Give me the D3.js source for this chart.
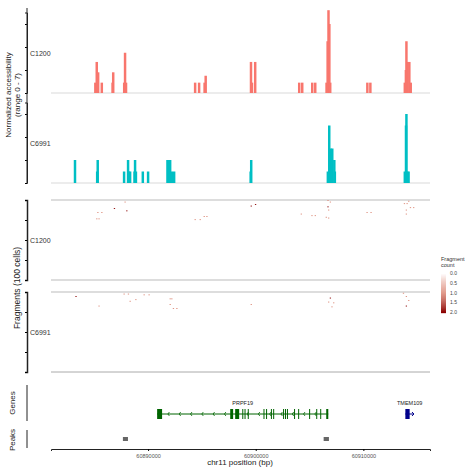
<!DOCTYPE html>
<html><head><meta charset="utf-8">
<script src="https://cdn.jsdelivr.net/npm/d3@7"></script>
<style>body{margin:0;background:#fff}text{font-family:"Liberation Sans",Arial,sans-serif}</style>
</head><body><svg id="c" width="474" height="474"></svg>
<script>
// coverage bars: [position bp, normalized accessibility]
var covC1200 = [[60885100,0.9],[60885230,2.7],[60885360,1.8],[60885700,0.9],[60886700,0.9],[60886760,1.8],
  [60887780,0.9],[60887860,3.5],[60887950,0.9],[60894370,0.9],[60894740,0.9],[60895250,0.9],[60895350,1.5],
  [60899560,2.7],[60899650,0.9],[60899950,2.7],[60904040,0.9],[60904320,0.9],[60905250,0.9],[60905530,0.9],
  [60906580,0.9],[60906680,4.5],[60906760,7.2],[60906840,6],[60906920,0.9],[60910370,0.9],[60910650,0.9],
  [60913850,0.9],[60913950,2],[60914000,4.5],[60914100,2.7],[60914270,2.7],[60914400,0.9]];
var covC6991 = [[60883210,2],[60885270,1],[60885320,2],[60887770,1],[60888140,2],[60888230,1],[60888330,1],
  [60888740,1],[60888790,2],[60888870,1],[60889510,1],[60890000,1],[60891800,2],[60891900,2],[60892050,2],
  [60892200,1],[60892420,1],[60899580,2],[60899530,1],[60906700,1],[60906830,5],[60906950,3],[60907110,3],
  [60907300,2],[60907350,1],[60913850,1],[60913960,5],[60914000,6],[60914080,1],[60914200,1]];
// fragments: [position bp, cell row, count]
var fragC1200 = [[60885230,23,1],[60885440,23,1],[60885330,15,1],[60885700,15,1],[60886870,10,2],[60887860,2,1],
  [60888020,13,2],[60894370,24,1],[60894840,24,1],[60895210,20,1],[60895460,20,1],[60899580,7,2],[60899980,5,2],
  [60904230,17,1],[60905220,19,1],[60905530,19,1],[60906710,0,1],[60906930,2,1],[60906710,8,2],[60906770,12,1],
  [60906550,21,1],[60906770,22,1],[60910340,15,1],[60910710,15,1],[60913810,4,1],[60914060,4,1],[60914210,1,1],
  [60914370,9,1],[60914670,9,1],[60913990,12,1],[60913990,17,1]];
var fragC6991 = [[60883300,5,2],[60885440,17,1],[60887770,2,1],[60888170,2,1],[60888330,11,1],[60888860,9,1],
  [60889630,3,1],[60890090,3,1],[60892050,8,1],[60892200,8,1],[60892050,15,1],[60892350,20,1],[60892670,20,1],
  [60899580,15,1],[60906930,7,2],[60906770,12,1],[60907240,13,1],[60907080,18,1],[60913720,1,1],[60913990,5,1],
  [60914210,10,1],[60913990,17,2]];
// genes
var prpf19Exons = [[60890840,60891300],[60897630,60897900],[60898090,60898460],[60898750,60898830],[60898960,60899050],
  [60899260,60899330],[60900720,60900800],[60900960,60901050],[60901410,60901480],[60901620,60901700],
  [60902540,60902620],[60902720,60902800],[60902900,60902980],[60903560,60903640],[60903940,60904020],
  [60904960,60905030],[60905620,60905700],[60905990,60906070],[60906550,60906740]];
var prpf19Span = [60890840,60906740];
var tmemExons = [[60913900,60914300]];
var tmemSpan = [60913900,60914700];
var peaks = [[60887660,60888130],[60906310,60906800]];
var xTicks = [60890000,60900000,60910000];
var fragLegend = [0,0.5,1,1.5,2];

var svg = d3.select("#c");
var x = d3.scaleLinear().domain([60880980,60916190]).range([51,430]);
var bw = 230;
function covPanel(data, base, color, label){
  var y = d3.scaleLinear().domain([0,7]).range([base, base-80.5]);
  svg.append("line").attr("x1",51).attr("x2",430).attr("y1",base).attr("y2",base).attr("stroke","#d9d9d9").attr("stroke-width",1);
  svg.append("g").selectAll("rect").data(data).join("rect")
    .attr("x",d=>x(d[0]-bw/2)).attr("width",x(bw)-x(0)).attr("y",d=>y(d[1])).attr("height",d=>base-y(d[1])).attr("fill",color);
  var ax = svg.append("g").attr("transform","translate(27,0)").call(d3.axisLeft(y).tickValues([0,2,4,6]).tickSize(2).tickFormat(""));
  ax.select(".domain").attr("stroke","#222");
  svg.append("text").attr("x",30).attr("y",y(3.5)+3).attr("font-size",7).attr("fill","#333").text(label);
}
covPanel(covC1200, 93, "#F8766D", "C1200");
covPanel(covC6991, 183, "#00BFC4", "C6991");
svg.append("line").attr("x1",27).attr("x2",27).attr("y1",8).attr("y2",183).attr("stroke","#222");

var fc = d3.scaleLinear().domain([0,1,2]).range(["#ffffff","#dc8a78","#8b0000"]);
function fragPanel(data, top, label){
  var y = d3.scaleLinear().domain([0,100]).range([top, top+80]);
  [top, top+80].forEach(v=>svg.append("line").attr("x1",51).attr("x2",430).attr("y1",v).attr("y2",v).attr("stroke","#bbb"));
  svg.append("g").selectAll("rect").data(data).join("rect")
    .attr("x",d=>x(d[0])-0.6).attr("width",1.3).attr("y",d=>y(d[1])).attr("height",0.9).attr("fill",d=>fc(d[2]));
  var ax = svg.append("g").attr("transform","translate(27,0)").call(d3.axisLeft(y).tickValues([0,25,50,75,100]).tickSize(2).tickFormat(""));
  ax.select(".domain").attr("stroke","#222").attr("stroke-width",1.5);
  svg.append("text").attr("x",30).attr("y",y(50)+3).attr("font-size",7).attr("fill","#333").text(label);
}
fragPanel(fragC1200, 200, "C1200");
fragPanel(fragC6991, 292, "C6991");

// legend
var lg = svg.append("g");
lg.append("text").attr("x",441).attr("y",261).attr("font-size",5.5).attr("fill","#333").text("Fragment");
lg.append("text").attr("x",441).attr("y",267).attr("font-size",5.5).attr("fill","#333").text("count");
var ly = d3.scaleLinear().domain([0,2]).range([273,312]);
lg.selectAll("rect").data(d3.range(0,2.0001,0.05)).join("rect")
  .attr("x",441).attr("width",5).attr("y",d=>ly(d)).attr("height",ly(0.06)-ly(0)).attr("fill",d=>fc(d));
lg.selectAll("text.t").data(fragLegend).join("text").attr("class","t").attr("x",450).attr("y",d=>ly(d)+2)
  .attr("font-size",5).attr("fill","#444").text(d=>d.toFixed(1));

// left titles
function vtitle(lines, cx, cy, size){
  var t = svg.append("text").attr("transform","translate("+cx+","+cy+") rotate(-90)").attr("text-anchor","middle").attr("font-size",size).attr("fill","#222");
  lines.forEach((l,i)=>t.append("tspan").attr("x",0).attr("dy",i?size*1.1:0).text(l));
}
vtitle(["Normalized accessibility","(range 0 - 7)"], 11, 95, 8);
vtitle(["Fragments (100 cells)"], 20, 288, 8.5);
vtitle(["Genes"], 15, 403, 8);
vtitle(["Peaks"], 15, 440, 8);
svg.append("line").attr("x1",27).attr("x2",27).attr("y1",385).attr("y2",421).attr("stroke","#222");
svg.append("line").attr("x1",27).attr("x2",27).attr("y1",430).attr("y2",448).attr("stroke","#222");
svg.append("line").attr("x1",51).attr("x2",430).attr("y1",372).attr("y2",372).attr("stroke","#ccc");

// genes
function gene(span, exons, color, name, strand){
  var gy = 414;
  svg.append("line").attr("x1",x(span[0])).attr("x2",x(span[1])).attr("y1",gy).attr("y2",gy).attr("stroke",color).attr("stroke-width",1);
  svg.append("g").selectAll("rect").data(exons).join("rect")
    .attr("x",d=>x(d[0])).attr("width",d=>Math.max(1,x(d[1])-x(d[0]))).attr("y",gy-5).attr("height",10).attr("fill",color);
  var marks = d3.range(span[0]+1000, span[1]-300, 1050);
  if(strand<0) svg.append("g").selectAll("path").data(marks).join("path")
    .attr("d",d=>"M"+(x(d)+1.5)+","+(gy-2)+"L"+x(d)+","+gy+"L"+(x(d)+1.5)+","+(gy+2)).attr("stroke",color).attr("fill","none").attr("stroke-width",0.8);
  else svg.append("path").attr("d","M"+(x(span[1])-2)+","+(gy-2)+"L"+x(span[1])+","+gy+"L"+(x(span[1])-2)+","+(gy+2)).attr("stroke",color).attr("fill","none");
  svg.append("text").attr("x",x((exons[0][0]+span[1])/2)).attr("y",gy-9).attr("text-anchor","middle").attr("font-size",5.5).attr("fill","#222").text(name);
}
gene(prpf19Span, prpf19Exons, "#006400", "PRPF19", -1);
gene(tmemSpan, tmemExons, "#00008B", "TMEM109", 1);

// peaks
svg.append("g").selectAll("rect").data(peaks).join("rect")
  .attr("x",d=>x(d[0])).attr("width",d=>x(d[1])-x(d[0])).attr("y",437).attr("height",4).attr("fill","#666");

// x axis
var xa = svg.append("g").attr("transform","translate(0,449)").call(d3.axisBottom(x).tickValues(xTicks).tickSize(2).tickFormat(d3.format("d")));
xa.select(".domain").attr("stroke","#222").attr("stroke-width",1);
xa.selectAll("text").attr("font-size",5.5).attr("fill","#555");
svg.append("text").attr("x",240).attr("y",465).attr("text-anchor","middle").attr("font-size",8).attr("fill","#222").text("chr11 position (bp)");
</script></body></html>
